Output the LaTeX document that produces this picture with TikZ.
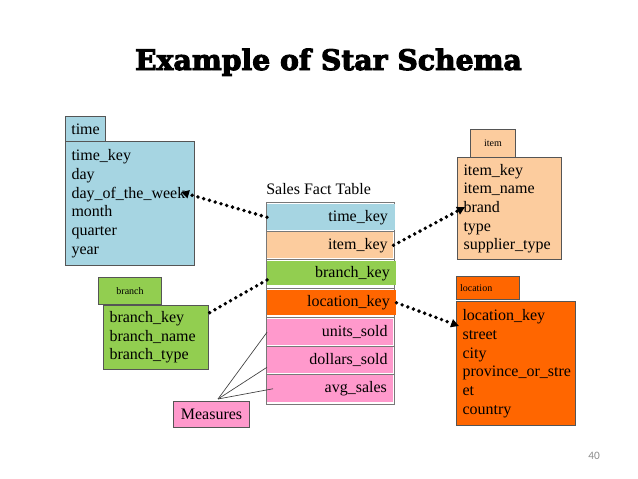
\documentclass[tikz,border=0pt]{standalone}
\usepackage{fontspec}
\setmainfont{Liberation Serif}
\setsansfont{Carlito}
\newfontfamily\titlefont[BoldFeatures={FakeBold=3.5}]{DejaVu Serif}
\usetikzlibrary{arrows.meta,calc}
\definecolor{timec}{RGB}{166,213,226}
\definecolor{itemc}{RGB}{252,204,158}
\definecolor{branchc}{RGB}{146,206,80}
\definecolor{locc}{RGB}{255,102,0}
\definecolor{pinkc}{RGB}{255,153,204}
\definecolor{edgec}{RGB}{85,85,85}
\definecolor{gridc}{RGB}{120,120,120}
\tikzset{
  tabbox/.style={draw=edgec, line width=0.8pt, inner sep=0pt, anchor=north west},
  bodybox/.style={draw=edgec, line width=0.8pt, anchor=north west, inner sep=4.5pt, align=left,
     font=\fontsize{12}{14}\selectfont},
  rowbox/.style={anchor=north west, inner sep=0pt, align=right,
     font=\fontsize{12}{14}\selectfont},
  dotline/.style={line width=2.9pt, dash pattern=on 0pt off 4.5pt, line cap=round},
  dotarrow/.style={dotline, -{Triangle[length=6pt,width=6pt]}},
  measline/.style={draw=black!75, line width=0.5pt}
}
\begin{document}
\begin{tikzpicture}[x=0.75pt,y=-0.75pt]
\useasboundingbox (0,0) rectangle (638,478);
\fill[white] (0,0) rectangle (638,478);
% title
\node[anchor=base] (title) at (328.5,70) {\resizebox{290pt}{!}{\titlefont\bfseries Example of Star Schema}};
% time dimension
\node[tabbox, fill=timec, minimum width=30pt, minimum height=18.75pt, font=\fontsize{12}{14}\selectfont] (ttab) at (65,116) {time};
\node[bodybox, fill=timec, minimum width=96.75pt, minimum height=93pt, text width=87.75pt] (tbody) at (65,141)
  {time\_key\\day\\day\_of\_the\_week\\month\\quarter\\year};
% branch dimension
\node[tabbox, fill=branchc, minimum width=47.25pt, minimum height=20.25pt, font=\fontsize{7.5}{9}\selectfont] (btab) at (98,277) {branch};
\node[bodybox, fill=branchc, minimum width=78.75pt, minimum height=47.25pt, text width=69.75pt] (bbody) at (103,305)
  {branch\_key\\branch\_name\\branch\_type};
% item dimension
\node[tabbox, fill=itemc, minimum width=33.75pt, minimum height=21pt, font=\fontsize{7.5}{9}\selectfont] (itab) at (470,129) {item};
\node[bodybox, fill=itemc, minimum width=78pt, minimum height=76.5pt, text width=69pt] (ibody) at (457,157)
  {item\_key\\item\_name\\brand\\type\\supplier\_type};
% location dimension
\node[tabbox, fill=locc, minimum width=47.25pt, minimum height=17.25pt, font=\fontsize{7.5}{9}\selectfont, text width=42pt, align=left] (ltab) at (456,276) {location};
\node[bodybox, fill=locc, minimum width=89.25pt, minimum height=93pt, text width=80.25pt] (lbody) at (456,301)
  {location\_key\\street\\city\\province\_or\_stre\\et\\country};
% fact table
\node[anchor=west, inner sep=0pt, font=\fontsize{12}{14}\selectfont] (ftitle) at (266,189) {Sales Fact Table};
\node[draw=gridc, line width=0.8pt, anchor=north west, minimum width=96pt, minimum height=151.5pt, inner sep=0pt] (fact) at (266,202) {};
\foreach \yy in {231,259.5,288,317,346,374}{
  \draw[gridc, line width=0.6pt] (fact.west |- 0,\yy) -- (fact.east |- 0,\yy);
}
\node[rowbox, fill=timec, minimum width=96pt, minimum height=19.5pt, text width=85pt] (timek) at (267,204) {time\_key};
\node[rowbox, fill=itemc, minimum width=94.5pt, minimum height=19.5pt, text width=86pt] (itemk) at (267,232) {item\_key};
\node[rowbox, fill=branchc, minimum width=96.75pt, minimum height=18pt, text width=87pt] (branchk) at (267,261) {branch\_key};
\node[rowbox, fill=locc, minimum width=96.75pt, minimum height=18.75pt, text width=87pt] (lock) at (267,290) {location\_key};
\node[rowbox, fill=pinkc, minimum width=94.5pt, minimum height=19.5pt, text width=86pt] (units) at (267,319) {units\_sold};
\node[rowbox, fill=pinkc, minimum width=94.5pt, minimum height=19.5pt, text width=86pt] (dollars) at (267,347) {dollars\_sold};
\node[rowbox, fill=pinkc, minimum width=94.5pt, minimum height=20.25pt, text width=85pt] (avg) at (267,375) {avg\_sales};
% measures
\node[draw=edgec, line width=0.8pt, fill=pinkc, anchor=north west, minimum width=57pt, minimum height=19.5pt, inner sep=0pt,
  font=\fontsize{12}{14}\selectfont] (meas) at (173,401) {Measures};
\coordinate (mtop) at (218,399);
\draw[measline] (mtop) -- (units.west);
\draw[measline] (mtop) -- ([yshift=-5.25pt]dollars.west);
\draw[measline] (mtop) -- ([xshift=4.5pt]avg.west);
% connectors
\coordinate (tend) at (181,192);
\coordinate (iend) at (465,207);
\coordinate (bend) at ([yshift=-6pt]bbody.north east);
\coordinate (lend) at (459,326);
\draw[dotarrow] (timek.west) -- (tend);
\draw[dotarrow] (itemk.east) -- (iend);
\draw[dotline] ([yshift=-5pt]branchk.west) -- (bend);
\draw[dotarrow] (lock.east) -- (lend);
% page number
\node[text=black!45, font=\sffamily\fontsize{8.5}{10}\selectfont] (pnum) at (594,456) {40};
\end{tikzpicture}
\end{document}
